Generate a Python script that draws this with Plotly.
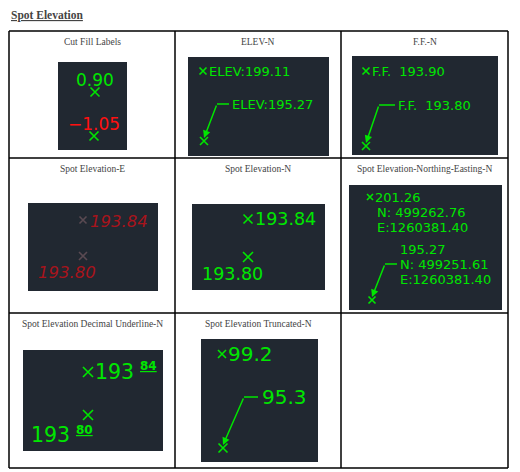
import plotly.graph_objects as go

# cell titles, left-to-right, top-to-bottom
cell_titles = ["Cut Fill Labels", "ELEV-N", "F.F.-N",
               "Spot Elevation-E", "Spot Elevation-N", "Spot Elevation-Northing-Easting-N",
               "Spot Elevation Decimal Underline-N", "Spot Elevation Truncated-N", ""]

cut_fill = ["0.90", "−1.05"]
elev_labels = ["ELEV:199.11", "ELEV:195.27"]
ff_labels = ["F.F.&nbsp;&nbsp;193.90", "F.F.&nbsp;&nbsp;193.80"]
spot_e = ["193.84", "193.80"]
spot_n = ["193.84", "193.80"]
ne_top = ["201.26", "N: 499262.76", "E:1260381.40"]
ne_bottom = ["195.27", "N: 499251.61", "E:1260381.40"]
underline_whole = ["193", "193"]
underline_dec = ["84", "80"]
truncated = ["99.2", "95.3"]

GREEN = "#00e600"
RED = "#ff1010"
DARKRED = "#a8141c"
BG = "#212831"
CAD = "DejaVu Sans"

fig = go.Figure()
shapes = []
ann = []

col_x = [9, 175, 341, 508]
row_y = [31, 158, 313, 468]

# table grid
for x in col_x:
    shapes.append(dict(type="line", x0=x, x1=x, y0=row_y[0], y1=row_y[-1], line=dict(color="black", width=1.5)))
for y in row_y:
    shapes.append(dict(type="line", x0=col_x[0], x1=col_x[-1], y0=y, y1=y, line=dict(color="black", width=1.5)))

for i, t in enumerate(cell_titles):
    r, c = divmod(i, 3)
    ann.append(dict(x=(col_x[c] + col_x[c + 1]) / 2, y=row_y[r] + 11, text=t, showarrow=False,
                    font=dict(family="Liberation Serif", size=9.5, color="#444")))

ann.append(dict(x=9, y=15, text="<b><u>Spot Elevation</u></b>", showarrow=False, xanchor="left",
                font=dict(family="Liberation Serif", size=11.5, color="#444")))

# dark CAD panels
panels = [(58, 127, 62, 150), (188, 329, 57, 156), (352, 498, 56, 155),
          (28, 158, 203, 291), (192, 325, 204, 290), (349, 502, 185, 310),
          (23, 163, 350, 451), (201, 318, 339, 462)]
for x0, x1, y0, y1 in panels:
    shapes.append(dict(type="rect", x0=x0, x1=x1, y0=y0, y1=y1, fillcolor=BG, line=dict(width=0), layer="below"))


def txt(x, y, s, size, color=GREEN, anchor="left", italic=False):
    if italic:
        s = "<i>" + s + "</i>"
    ann.append(dict(x=x, y=y, text=s, showarrow=False, xanchor=anchor, yanchor="middle",
                    font=dict(family=CAD, size=size, color=color)))


marks = []  # (x, y, size, color)


def leader(px, py, kx, ky, ex, color=GREEN):
    shapes.append(dict(type="line", x0=kx, y0=ky, x1=ex, y1=ky, line=dict(color=color, width=1.5)))
    ann.append(dict(x=px, y=py - 3, ax=kx, ay=ky, axref="x", ayref="y", xref="x", yref="y", text="",
                    showarrow=True, arrowhead=2, arrowsize=1, arrowwidth=1.5, arrowcolor=color))


# Cut Fill Labels
txt(95, 80, cut_fill[0], 17, anchor="center")
marks.append((95, 92, 9, GREEN))
txt(94, 124, cut_fill[1], 17, color=RED, anchor="center")
marks.append((94, 136, 9, GREEN))

# ELEV-N
marks.append((203, 71, 7, GREEN))
txt(207, 71, elev_labels[0], 13)
marks.append((204, 141, 8, GREEN))
leader(204, 141, 217, 104, 229)
txt(230, 104, elev_labels[1], 13)

# F.F.-N
marks.append((366, 71, 7, GREEN))
txt(370, 71, ff_labels[0], 13)
marks.append((366, 146, 8, GREEN))
leader(366, 146, 379, 105, 395)
txt(396, 105, ff_labels[1], 13)

# Spot Elevation-E
marks.append((83, 220, 7, "#5a4a52"))
txt(88, 221, spot_e[0], 16.5, color=DARKRED, italic=True)
marks.append((83, 256, 8, "#5a4a52"))
txt(36, 272, spot_e[1], 16.5, color=DARKRED, italic=True)

# Spot Elevation-N
marks.append((248, 219, 9, GREEN))
txt(253, 219, spot_n[0], 17.5)
marks.append((248, 257, 10, GREEN))
txt(200, 274, spot_n[1], 17.5)

# Northing-Easting
marks.append((370, 197, 6, GREEN))
for k, s in enumerate(ne_top):
    txt(373 if k == 0 else 375, 197 + 15 * k, s, 13)
for k, s in enumerate(ne_bottom):
    txt(398, 249 + 15 * k, s, 13)
marks.append((372, 300, 7, GREEN))
leader(372, 300, 385, 264, 397)

# Decimal underline
marks.append((88, 372, 10, GREEN))
txt(93, 372, underline_whole[0], 20.5)
txt(138, 366, "<b><u>" + underline_dec[0] + "</u></b>", 12)
marks.append((88, 415, 10, GREEN))
txt(29, 435, underline_whole[1], 20.5)
txt(74, 430, "<b><u>" + underline_dec[1] + "</u></b>", 12)

# Truncated
marks.append((222, 354, 8, GREEN))
txt(226, 354, truncated[0], 20)
marks.append((223, 448, 9, GREEN))
leader(223, 448, 244, 397, 258)
txt(260, 397, truncated[1], 20)

for x, y, s, col in marks:
    fig.add_trace(go.Scatter(x=[x], y=[y], mode="markers", hoverinfo="skip",
                             marker=dict(symbol="x-thin", size=s, line=dict(color=col, width=1.6))))

fig.update_layout(width=520, height=472, margin=dict(l=0, r=0, t=0, b=0), showlegend=False,
                  plot_bgcolor="white", paper_bgcolor="white", shapes=shapes, annotations=ann,
                  xaxis=dict(range=[0, 520], visible=False),
                  yaxis=dict(range=[472, 0], visible=False))
fig.write_html("out.html", config=dict(displayModeBar=False),
               post_script="document.body.style.margin='0';document.body.style.overflow='hidden';")
